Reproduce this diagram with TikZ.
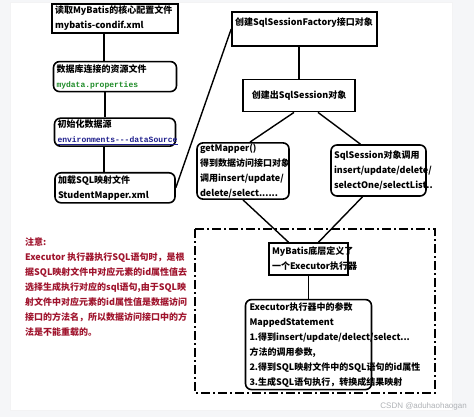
\documentclass[tikz,border=0pt]{standalone}
\usepackage{fontspec}
\setmainfont{Noto Sans CJK SC}
\setmonofont{Liberation Mono}
\newfontfamily\wmfont{Liberation Sans}
\usetikzlibrary{positioning,calc}
\definecolor{notered}{RGB}{160,20,45}
\definecolor{propgreen}{RGB}{30,140,40}
\definecolor{dsblue}{RGB}{30,30,140}
\definecolor{pagegray}{RGB}{245,246,248}
\definecolor{markgray}{RGB}{175,178,182}

\begin{document}
\begin{tikzpicture}[x=1pt, y=-1pt,
            every node/.style={font=\fontsize{9}{15}\selectfont\bfseries},
            sqbox/.style={rectangle, draw, line width=1.6pt, align=left, inner xsep=3pt, inner ysep=1pt},
            rbox/.style={sqbox, rounded corners=6pt},
            link/.style={line width=1.4pt},
            frame/.style={line width=1.8pt, dash pattern=on 9pt off 3pt on 2pt off 3pt}
        ]
        \useasboundingbox (0,0) rectangle (474,417);
        \fill[pagegray] (0,0) rectangle (474,417);
        \fill[white, draw=pagegray!80!black!20] (10,2) rectangle (452,410);

        \node[sqbox, text width=120pt, minimum height=29pt] (read) at (115,18.5) {读取MyBatis的核心配置文件\\mybatis-condif.xml};
        \node[rbox, text width=117pt, minimum height=30pt, below=27pt of read] (props) {数据库连接的资源文件\\\textcolor{propgreen}{\ttfamily\fontsize{8}{15}\selectfont mydata.properties}};
        \node[rbox, text width=115pt, minimum height=28pt, below=25pt of props] (source) {初始化数据源\\\textcolor{dsblue}{\ttfamily\fontsize{8}{15}\selectfont\underline{environments---dataSource}}};
        \node[rbox, text width=114pt, minimum height=30pt, below=25pt of source] (mapper) {加载SQL映射文件\\StudentMapper.xml};

        \node[sqbox, text width=139pt, minimum height=34pt] (factory) at (304.5,29) {创建SqlSessionFactory接口对象\\\mbox{}};
        \node[sqbox, align=center, text width=106pt, minimum height=32pt, below=32pt of factory, xshift=-5.5pt] (session) {创建出SqlSession对象};
        \node[rbox, text width=86pt, minimum height=56pt] (getmap) at (243,171) {getMapper()\\得到数据访问接口对象\\调用insert/update/\\delete/select......};
        \node[rbox, text width=89pt, minimum height=51pt] (sessioncall) at (378.5,170.5) {SqlSession对象调用\\insert/update/delete/\\selectOne/selectList..};

        \draw[frame] (195,229) rectangle (435,393);
        \node[sqbox, text width=73pt, minimum height=32pt] (executor) at (308.5,259) {MyBatis底层定义了\\一个Executor执行器};
        \node[rbox, inner xsep=4pt, text width=118pt, minimum height=90pt, below=23pt of executor] (params) {Executor执行器中的参数\\MappedStatement\\1.得到insert/update/delect/select...\\方法的调用参数,\\2.得到SQL映射文件中的SQL语句的id属性\\3.生成SQL语句执行，转换成结果映射};

        \draw[link] ([xshift=-11pt]read.south) -- ([xshift=-11pt]read.south |- props.north);
        \draw[link] ([xshift=-10pt]props.south) -- ([xshift=-10pt]props.south |- source.north);
        \draw[link] ([xshift=-11pt]source.south) -- ([xshift=-11pt]source.south |- mapper.north);
        \draw[link] (mapper.east) -- (factory.west);
        \draw[link] (factory.south -| session.north) -- (session.north);
        \draw[link] ([xshift=-5pt]session.south) -- ([xshift=7pt]getmap.north);
        \draw[link] ([xshift=19pt]session.south) -- ([xshift=-18pt]sessioncall.north);
        \draw[link] (getmap.south) -- ([xshift=-20pt]executor.north);
        \draw[link] ([xshift=-16pt]sessioncall.south) -- ([xshift=10pt]executor.north);
        \draw[link] (executor.south) -- (executor.south |- params.north);

        \node[anchor=north west, align=left, text=notered, inner sep=0pt] (note) at (25,237) {注意:\\Executor 执行器执行SQL语句时，是根\\据SQL映射文件中对应元素的id属性值去\\选择生成执行对应的sql语句,由于SQL映\\射文件中对应元素的id属性值是数据访问\\接口的方法名，所以数据访问接口中的方\\法是不能重载的。};
        \node[anchor=east, font=\wmfont\fontsize{8}{10}\selectfont, text=markgray, inner sep=0pt] (mark) at (467,406) {CSDN @aduhaohaogan};
\end{tikzpicture}
\end{document}
